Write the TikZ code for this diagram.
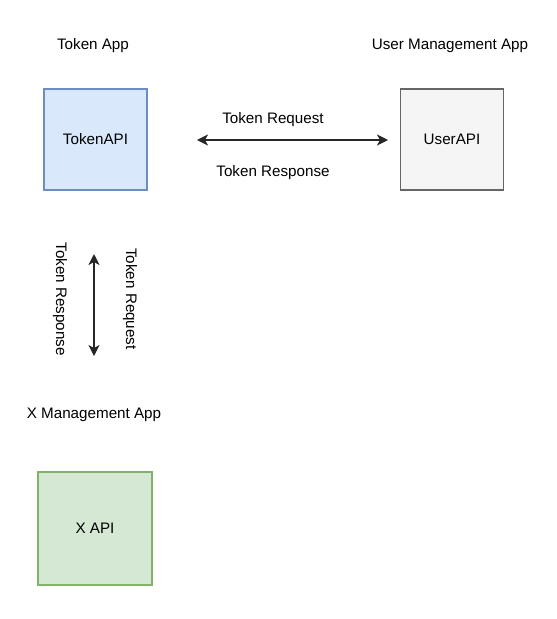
\documentclass[tikz,border=0pt]{standalone}
\usepackage{fontspec}
\setmainfont{Liberation Sans}
\usetikzlibrary{arrows.meta}
\definecolor{bluefill}{HTML}{DAE8FC}
\definecolor{blueline}{HTML}{6C8EBF}
\definecolor{grayfill}{HTML}{F5F5F5}
\definecolor{grayline}{HTML}{666666}
\definecolor{greenfill}{HTML}{D5E8D4}
\definecolor{greenline}{HTML}{82B366}
\begin{document}
\begin{tikzpicture}[x=1pt,y=-1pt,
  lbl/.style={font=\fontsize{15.2}{18}\selectfont, inner sep=0pt},
  box/.style={draw, line width=1.5pt, minimum width=103pt, minimum height=101pt, inner sep=0pt, font=\fontsize{15.2}{18}\selectfont},
  conn/.style={line width=1.5pt, draw=black!85, {Stealth[length=11pt,width=11pt,inset=3pt]}-{Stealth[length=11pt,width=11pt,inset=3pt]}}]
\useasboundingbox[fill=white] (0,0) rectangle (557,619);
\node[box, fill=bluefill, draw=blueline] (token) at (95.5,139.5) {TokenAPI};
\node[box, fill=grayfill, draw=grayline] (user) at (452,139.5) {UserAPI};
\node[box, fill=greenfill, draw=greenline, minimum width=114pt, minimum height=113pt] (xapi) at (95,528.5) {X API};
\node[lbl] (tokenapp) at (93,45.5) {Token App};
\node[lbl] (userapp) at (450,45.5) {User Management App};
\node[lbl] (xapp) at (94,415) {X Management App};
\coordinate (h1) at (197,140);
\coordinate (h2) at (388,140);
\draw[conn] (h1) -- (h2);
\node[lbl] (hreq) at (273,119.5) {Token Request};
\node[lbl] (hresp) at (273,172.5) {Token Response};
\coordinate (v1) at (94,254);
\coordinate (v2) at (94,356);
\draw[conn] (v1) -- (v2);
\node[lbl, rotate=-90] (vresp) at (60,299) {Token Response};
\node[lbl, rotate=-90] (vreq) at (130,299) {Token Request};
\end{tikzpicture}
\end{document}
